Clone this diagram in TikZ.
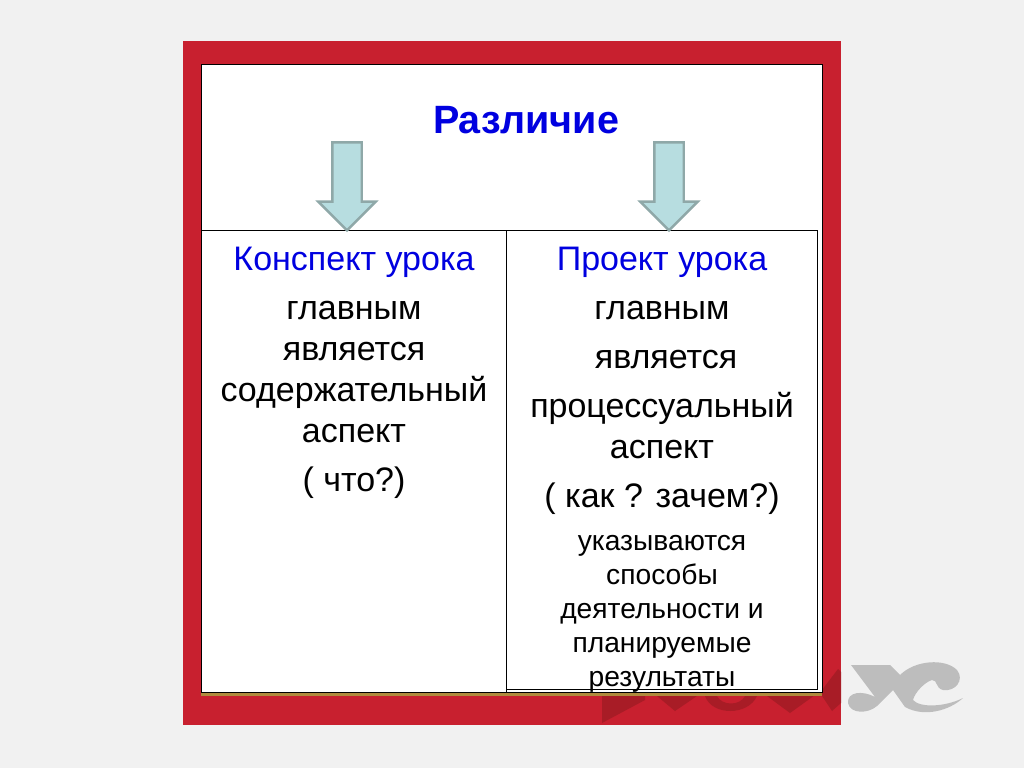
\documentclass[tikz,border=0pt]{standalone}
\usepackage{fontspec}
\setmainfont{Liberation Sans}
\usetikzlibrary{shapes.arrows}
\definecolor{paper}{HTML}{F1F1F1}
\definecolor{framered}{HTML}{C8202F}
\definecolor{markred}{HTML}{A81C26}
\definecolor{markgray}{HTML}{BDBDBD}
\definecolor{strip}{HTML}{B08A3C}
\definecolor{titleblue}{HTML}{0000E0}
\definecolor{arrowfill}{HTML}{B7DDE0}
\definecolor{arrowline}{HTML}{8FA8A8}
\tikzstyle{every node}=[inner sep=0pt,align=center]
\tikzstyle{cell}=[draw=black,fill=white,line width=0.8pt]
\tikzstyle{title}=[font=\fontsize{39.5}{44}\selectfont\bfseries,text=titleblue,anchor=base]
\tikzstyle{head}=[font=\fontsize{34}{38}\selectfont,text=titleblue,anchor=base]
\tikzstyle{body}=[font=\fontsize{34}{38}\selectfont,text=black,anchor=base]
\tikzstyle{small}=[font=\fontsize{28.2}{34}\selectfont,text=black,anchor=base]
\tikzstyle{downarrow}=[single arrow,shape border rotate=270,draw=arrowline,fill=arrowfill,line width=2.4pt,inner sep=13.5pt,minimum height=88pt,single arrow head extend=14pt,single arrow head indent=0pt]

\begin{document}
\begin{tikzpicture}[x=1pt,y=-1pt]
	\useasboundingbox (0,0) rectangle (1024,768);
	\fill[paper] (0,0) rectangle (1024,768);
	% frame
	\fill[framered] (183,41) rectangle (841,725);
	\fill[markred] (602,696) -- (645,696) -- (645,700) -- (602,723) -- cycle;
	\fill[markred] (657,696) -- (697,696) -- (675,711) -- cycle;
	\fill[markred] (705,696) .. controls (712,716) and (748,716) .. (757,696) -- (745,696) .. controls (740,706) and (722,706) .. (717,696) -- cycle;
	\fill[markred] (767,696) -- (790,713) -- (822,690) -- (838,669) -- (841,672) -- (841,703) -- (832,711) -- (822,696) -- cycle;
	\fill[markgray] (851,665) -- (890,665) -- (900,675) .. controls (915,660) and (945,658) .. (957,670) .. controls (965,680) and (955,692) .. (943,690) .. controls (935,688) and (938,680) .. (932,680) .. controls (925,682) and (915,692) .. (913,700) .. controls (920,708) and (945,707) .. (963,698) .. controls (950,710) and (925,718) .. (905,707) -- (893,690) -- (877,706) .. controls (868,714) and (850,714) .. (848,703) .. controls (847,692) and (862,690) .. (875,697) -- cycle;
	\fill[strip] (201,692) rectangle (822,696);
	% table
	\node[cell,minimum width=621pt,minimum height=628pt] (outer) at (511.5,378) {};
	\node[cell,minimum width=305.5pt,minimum height=462pt] (left) at (353.8,461) {};
	\node[cell,minimum width=310.5pt,minimum height=459pt] (right) at (661.8,459.5) {};
	\node[title] (diff) at (526,133) {Различие};
	\node[downarrow] (arrow_l) at (347,179) {};
	\node[downarrow] (arrow_r) at (669,179) {};
	% left column
	\node[head] (l_0) at (354,270) {Конспект урока};
	\node[body] (l_1) at (354,319) {главным};
	\node[body] (l_2) at (354,360) {является};
	\node[body] (l_3) at (354,401) {содержательный};
	\node[body] (l_4) at (354,442) {аспект};
	\node[body] (l_5) at (354,491) {( что?)};
	% right column
	\node[head] (r_0) at (662,270) {Проект урока};
	\node[body] (r_1) at (662,319) {главным};
	\node[body] (r_2) at (666,368) {является};
	\node[body] (r_3) at (662,417) {процессуальный};
	\node[body] (r_4) at (662,458) {аспект};
	\node[body] (r_5) at (662,507) {( как ? зачем?)};
	\node[small] (r_6) at (662,550) {указываются};
	\node[small] (r_7) at (662,584) {способы};
	\node[small] (r_8) at (662,618) {деятельности и};
	\node[small] (r_9) at (662,652) {планируемые};
	\node[small] (r_10) at (662,686) {результаты};
\end{tikzpicture}
\end{document}
